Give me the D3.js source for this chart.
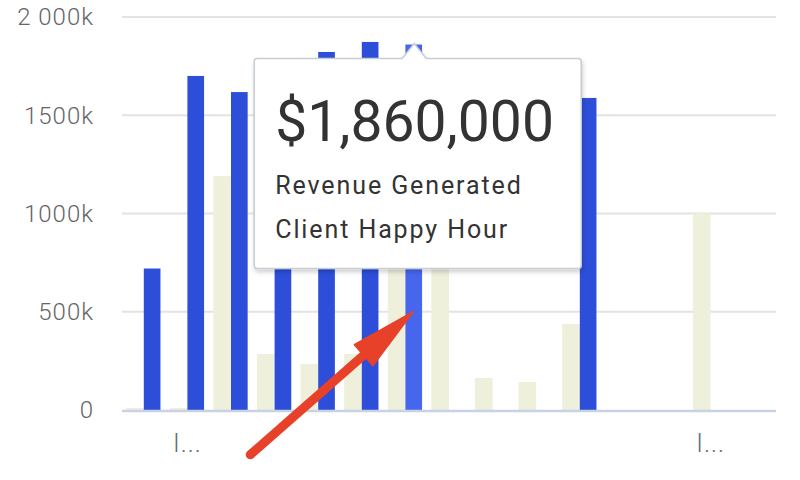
<!DOCTYPE html>
<html>
<head>
<meta charset="utf-8">
<script src="https://cdn.jsdelivr.net/npm/d3@7"></script>
<style>
  body { margin: 0; background: #fff; }
  svg { display: block; font-family: Roboto, 'Noto Sans', sans-serif; }
</style>
</head>
<body>
<div class="vis-bars"></div>
<script>
// chart data (values in dollars)
const categories = [
    'Event 1', 'Event 2', 'Event 3', 'Event 4', 'Event 5',
    'Event 6', 'Client Happy Hour', 'Event 8', 'Event 9', 'Event 10',
    'Event 11', 'Event 12', 'Event 13', 'Event 14', 'Event 15'
];
const tickLabels = ['', 'I...', '', '', '', '', '', '', '', '', '', '', '', 'I...', ''];
const costValues = [10000, 10000, 1190000, 285000, 234000, 285000, 900000, 820000, 163000, 142000, 438000, 0, 0, 1000000, 0];
const revenueValues = [720000, 1700000, 1618000, 1500000, 1822000, 1873000, 1860000, 0, 0, 0, 1588000, 0, 0, 0, 0];
const yTicks = [0, 500000, 1000000, 1500000, 2000000];
const yTickLabels = ['0', '500k', '1000k', '1500k', '2 000k'];
const highlighted = 'Client Happy Hour';
const tooltipLines = ['Revenue Generated', 'Client Happy Hour'];

const W = 800, H = 480;
const margin = { top: 17, right: 24, bottom: 70, left: 122 };

const svg = d3.select('.vis-bars')
    .append('svg')
    .attr('width', W)
    .attr('height', H);

const x0 = d3.scaleBand()
    .domain(categories)
    .range([margin.left, W - margin.right])
    .paddingInner(0.19)
    .paddingOuter(0.095);

const x1 = d3.scaleBand()
    .domain(['cost', 'revenue'])
    .range([0, x0.bandwidth()]);

const y = d3.scaleLinear()
    .domain([0, 2000000])
    .range([H - margin.bottom, margin.top]);

// gridlines
svg.append('g')
    .selectAll('line')
    .data(yTicks.slice(1))
    .join('line')
    .attr('x1', margin.left)
    .attr('x2', W - margin.right)
    .attr('y1', (d) => y(d))
    .attr('y2', (d) => y(d))
    .attr('stroke', '#e3e3e3')
    .attr('stroke-width', 2);

// y labels
svg.append('g')
    .selectAll('text')
    .data(yTicks)
    .join('text')
    .attr('x', 94)
    .attr('y', (d) => y(d))
    .attr('dy', '0.35em')
    .attr('text-anchor', 'end')
    .attr('fill', '#666')
    .attr('font-size', 24)
    .attr('font-weight', 300)
    .attr('letter-spacing', 1)
    .text((d, i) => yTickLabels[i]);

// bars
const rows = categories.map((c, i) => ({ cat: c, cost: costValues[i], revenue: revenueValues[i] }));
const groups = svg.append('g')
    .selectAll('g')
    .data(rows)
    .join('g')
    .attr('transform', (d) => 'translate(' + x0(d.cat) + ',0)');

groups.append('rect')
    .attr('x', x1('cost'))
    .attr('width', x1.bandwidth())
    .attr('y', (d) => y(d.cost))
    .attr('height', (d) => y(0) - y(d.cost))
    .attr('fill', '#eef0dc');

groups.append('rect')
    .attr('x', x1('revenue'))
    .attr('width', x1.bandwidth() - 1)
    .attr('y', (d) => y(d.revenue))
    .attr('height', (d) => y(0) - y(d.revenue))
    .attr('fill', (d) => (d.cat === highlighted ? '#4766ee' : '#2d4ed8'));

// baseline
svg.append('line')
    .attr('x1', margin.left)
    .attr('x2', W - margin.right)
    .attr('y1', y(0) + 1)
    .attr('y2', y(0) + 1)
    .attr('stroke', '#c8d2e6')
    .attr('stroke-width', 2.5);

// x labels
svg.append('g')
    .selectAll('text')
    .data(categories)
    .join('text')
    .attr('x', (d) => x0(d) + x0.bandwidth() / 2)
    .attr('y', y(0) + 42)
    .attr('text-anchor', 'middle')
    .attr('fill', '#5d6b78')
    .attr('font-size', 25)
    .attr('font-weight', 300)
    .attr('letter-spacing', 1)
    .text((d, i) => tickLabels[i]);

// tooltip
const hx = x0(highlighted) + x1('revenue') + x1.bandwidth() / 2;
const hv = revenueValues[categories.indexOf(highlighted)];
const tipY = y(hv) - 1;
const bx0 = hx - 160, bx1 = hx + 167, by0 = tipY + 15, by1 = tipY + 225, r = 3;

const defs = svg.append('defs');
const f = defs.append('filter').attr('id', 'shadow').attr('x', '-10%').attr('y', '-10%').attr('width', '120%').attr('height', '130%');
f.append('feDropShadow').attr('dx', 1).attr('dy', 3).attr('stdDeviation', 2).attr('flood-color', '#000').attr('flood-opacity', 0.18);

const p = d3.path();
p.moveTo(bx0 + r, by0);
p.lineTo(hx - 12, by0);
p.lineTo(hx, tipY);
p.lineTo(hx + 12, by0);
p.lineTo(bx1 - r, by0);
p.arcTo(bx1, by0, bx1, by0 + r, r);
p.lineTo(bx1, by1 - r);
p.arcTo(bx1, by1, bx1 - r, by1, r);
p.lineTo(bx0 + r, by1);
p.arcTo(bx0, by1, bx0, by1 - r, r);
p.lineTo(bx0, by0 + r);
p.arcTo(bx0, by0, bx0 + r, by0, r);
p.closePath();

svg.append('path')
    .attr('d', p.toString())
    .attr('fill', '#fff')
    .attr('stroke', '#c6cdd4')
    .attr('stroke-width', 1.5)
    .attr('filter', 'url(#shadow)');

svg.append('text')
    .attr('x', bx0 + 21)
    .attr('y', by0 + 82)
    .attr('fill', '#333')
    .attr('font-size', 57)
    .attr('font-weight', 400)
    .text(d3.format('$,')(hv));

svg.append('g')
    .selectAll('text')
    .data(tooltipLines)
    .join('text')
    .attr('x', bx0 + 21)
    .attr('y', (d, i) => by0 + 135 + i * 44)
    .attr('fill', '#333')
    .attr('font-size', 25)
    .attr('font-weight', 400)
    .attr('letter-spacing', 1.9)
    .text((d) => d);

// red annotation arrow
const ax = hx - 1, ay = y(500000);
const tx = ax - 163, ty = ay + 143;
const ang = Math.atan2(ay - ty, ax - tx);
const headLen = 66, headHalf = 14;
const bmx = ax - headLen * Math.cos(ang), bmy = ay - headLen * Math.sin(ang);
const nx = -Math.sin(ang), ny = Math.cos(ang);

svg.append('line')
    .attr('x1', tx)
    .attr('y1', ty)
    .attr('x2', bmx + 10 * Math.cos(ang))
    .attr('y2', bmy + 10 * Math.sin(ang))
    .attr('stroke', '#e8412a')
    .attr('stroke-width', 9)
    .attr('stroke-linecap', 'round');

svg.append('path')
    .attr('d', 'M' + ax + ',' + ay +
        'L' + (bmx + nx * headHalf) + ',' + (bmy + ny * headHalf) +
        'L' + (bmx - nx * headHalf) + ',' + (bmy - ny * headHalf) + 'Z')
    .attr('fill', '#e8412a')
    .attr('stroke', '#e8412a')
    .attr('stroke-width', 1.5)
    .attr('stroke-linejoin', 'round');
</script>
</body>
</html>
